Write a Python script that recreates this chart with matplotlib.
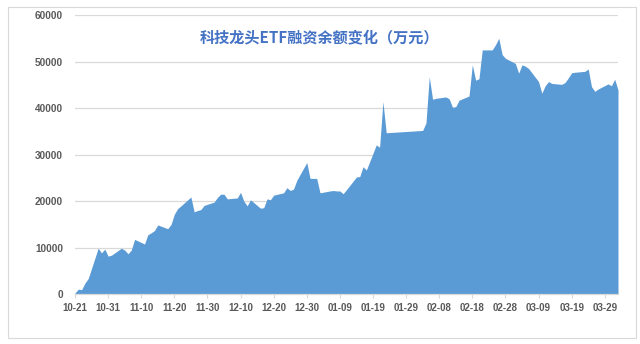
import matplotlib
matplotlib.use("Agg")
import matplotlib.pyplot as plt
import pandas as pd
from matplotlib.patches import Rectangle

# ---- data (万元) ----
dates = [
    "2019-10-21", "2019-10-22", "2019-10-23", "2019-10-24", "2019-10-25",
    "2019-10-28", "2019-10-29", "2019-10-30", "2019-10-31", "2019-11-01",
    "2019-11-04", "2019-11-05", "2019-11-06", "2019-11-07", "2019-11-08",
    "2019-11-11", "2019-11-12", "2019-11-13", "2019-11-14", "2019-11-15",
    "2019-11-18", "2019-11-19", "2019-11-20", "2019-11-21", "2019-11-22",
    "2019-11-25", "2019-11-26", "2019-11-27", "2019-11-28", "2019-11-29",
    "2019-12-02", "2019-12-03", "2019-12-04", "2019-12-05", "2019-12-06",
    "2019-12-09", "2019-12-10", "2019-12-11", "2019-12-12", "2019-12-13",
    "2019-12-16", "2019-12-17", "2019-12-18", "2019-12-19", "2019-12-20",
    "2019-12-23", "2019-12-24", "2019-12-25", "2019-12-26", "2019-12-27",
    "2019-12-30", "2019-12-31", "2020-01-02", "2020-01-03",
    "2020-01-06", "2020-01-07", "2020-01-08", "2020-01-09", "2020-01-10",
    "2020-01-13", "2020-01-14", "2020-01-15", "2020-01-16", "2020-01-17",
    "2020-01-20", "2020-01-21", "2020-01-22", "2020-01-23",
    "2020-02-03", "2020-02-04", "2020-02-05", "2020-02-06", "2020-02-07",
    "2020-02-10", "2020-02-11", "2020-02-12", "2020-02-13", "2020-02-14",
    "2020-02-17", "2020-02-18", "2020-02-19", "2020-02-20", "2020-02-21",
    "2020-02-24", "2020-02-25", "2020-02-26", "2020-02-27", "2020-02-28",
    "2020-03-02", "2020-03-03", "2020-03-04", "2020-03-05", "2020-03-06",
    "2020-03-09", "2020-03-10", "2020-03-11", "2020-03-12", "2020-03-13",
    "2020-03-16", "2020-03-17", "2020-03-18", "2020-03-19", "2020-03-20",
    "2020-03-23", "2020-03-24", "2020-03-25", "2020-03-26", "2020-03-27",
    "2020-03-30", "2020-03-31", "2020-04-01", "2020-04-02",
]
balance = [
    300, 1100, 1000, 2400, 3400,
    9900, 8900, 9700, 8200, 8400,
    9900, 9500, 8700, 9500, 11800,
    10800, 12800, 13200, 13700, 14900,
    14100, 15000, 17200, 18400, 19000,
    20900, 17700, 18000, 18200, 19100,
    19800, 20800, 21500, 21500, 20500,
    20700, 21900, 20000, 19000, 20300,
    18500, 18600, 20500, 20300, 21300,
    21800, 22900, 22300, 22600, 24500,
    28300, 24900, 24900, 21800,
    22200, 22300, 22200, 22200, 21600,
    24300, 25200, 25300, 27400, 26700,
    32100, 31600, 41400, 34700,
    35200, 36800, 46700, 41900, 42100,
    42400, 42000, 40200, 40300, 41700,
    42600, 49300, 46000, 46300, 52500,
    52500, 53600, 55000, 51500, 50700,
    49600, 47500, 49300, 49000, 48500,
    45700, 43200, 44800, 45700, 45300,
    45100, 45500, 46500, 47600, 47700,
    47900, 48400, 44600, 43600, 44100,
    45200, 44800, 46200, 43900,
]
x_tick_labels = ["10-21", "10-31", "11-10", "11-20", "11-30", "12-10", "12-20",
                 "12-30", "01-09", "01-19", "01-29", "02-08", "02-18", "02-28",
                 "03-09", "03-19", "03-29"]
y_ticks = [0, 10000, 20000, 30000, 40000, 50000, 60000]
title = "科技龙头ETF融资余额变化（万元）"

# ---- figure ----
x = pd.to_datetime(dates)
tick_pos = pd.to_datetime(
    [("2019-" if int(t[:2]) >= 10 else "2020-") + t for t in x_tick_labels])

fig = plt.figure(figsize=(6.4, 3.44), dpi=100)
fig.patch.set_facecolor("white")
fig.patches.append(Rectangle((8 / 640, 1 - 338 / 344), 628 / 640, 331 / 344,
                             transform=fig.transFigure, fill=False,
                             edgecolor="#D9D9D9", linewidth=0.8))

ax = fig.add_axes([75 / 640, 1 - 294.3 / 344, 543 / 640, 279.3 / 344])
ax.fill_between(x, balance, 0, color="#5B9BD5", linewidth=0, zorder=2)

ax.set_xlim(x[0], x[-1])
ax.set_ylim(0, 60000)
ax.set_yticks(y_ticks)
ax.set_yticklabels([str(v) for v in y_ticks])
ax.set_xticks(tick_pos)
ax.set_xticklabels(x_tick_labels)
ax.grid(axis="y", color="#D9D9D9", linewidth=0.9, zorder=0)
ax.set_axisbelow(True)

for s in ["top", "right", "left"]:
    ax.spines[s].set_visible(False)
ax.spines["bottom"].set_color("#D9D9D9")
ax.spines["bottom"].set_linewidth(0.9)

ax.tick_params(axis="y", length=0, pad=8.6, labelsize=7.2, labelcolor="#595959")
ax.tick_params(axis="x", length=3, color="#D9D9D9", pad=3, labelsize=7,
               labelcolor="#595959")
for lab in ax.get_xticklabels() + ax.get_yticklabels():
    lab.set_fontfamily(["Liberation Sans", "DejaVu Sans"])
    lab.set_fontweight("bold")

fig.text(0.499, 1 - 37 / 344, title, ha="center", va="center",
         fontsize=10.9, fontweight="bold", color="#4472C4",
         family=["Noto Sans CJK SC", "DejaVu Sans"])

fig.savefig("out.png", dpi=100, facecolor="white")
